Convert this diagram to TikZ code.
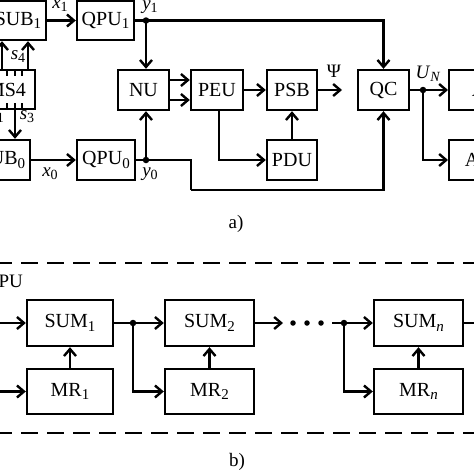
\documentclass[tikz,border=0pt]{standalone}
\usepackage{fontspec}
\setmainfont{Liberation Serif}
\usetikzlibrary{arrows.meta,calc}
\newcommand{\sbs}[1]{\raisebox{-3.5pt}{\fontsize{15}{15}\selectfont #1}}
\newcommand{\lsb}[1]{\raisebox{-3pt}{\fontsize{14}{14}\selectfont #1}}
\begin{document}
\begin{tikzpicture}[x=1pt,y=-1pt,
  txt/.style={font=\fontsize{20}{23}\selectfont},
  box/.style={draw,line width=2.4pt,inner sep=0pt,txt},
  lbl/.style={font=\fontsize{19}{22}\selectfont,inner sep=0pt},
  wire/.style={line width=2.4pt},
  arr/.style={wire,-{Straight Barb[length=7pt,width=12pt]}},
  jdot/.style={circle,fill,inner sep=0pt,minimum size=6.5pt},
  sdot/.style={circle,fill,inner sep=0pt,minimum size=5.5pt},
  tick/.style={line width=2pt},
  sep/.style={line width=2.4pt,dash pattern=on 17pt off 9pt,dash phase=5pt}]
\clip (0,0) rectangle (474,474);
% ---------- part a ----------
\node[box,minimum width=56,minimum height=39] (sub1) at (18,20.5) {SUB\sbs{1}};
\node[box,minimum width=56,minimum height=40] (sub0) at (2,160) {SUB\sbs{0}};
\node[box,minimum width=57,minimum height=39] (ms4) at (6.5,89.5) {MS4};
\node[box,minimum width=57,minimum height=39] (qpu1) at (105.5,20.5) {QPU\sbs{1}};
\node[box,minimum width=58,minimum height=40] (qpu0) at (106,160) {QPU\sbs{0}};
\node[box,minimum width=51,minimum height=40] (nu) at (143.5,90) {NU};
\node[box,minimum width=52,minimum height=40] (peu) at (217,90) {PEU};
\node[box,minimum width=50,minimum height=40] (psb) at (292,90) {PSB};
\node[box,minimum width=51,minimum height=40] (qc) at (383.5,90) {QC};
\node[box,minimum width=50,minimum height=40] (pdu) at (292,160) {PDU};
\node[box,anchor=west,minimum height=40,minimum width=60,inner xsep=12pt,align=left] (abox) at (448,90) {A};
\node[box,anchor=west,minimum height=40,minimum width=60,inner xsep=5pt,align=left] (adbox) at (448,160) {AD};

% ticks inside MS4
\foreach \tx in {7,15,22.3}{
  \draw[tick] (\tx,70) -- (\tx,76);
  \draw[tick] (\tx,103) -- (\tx,109);
}

\coordinate (j1) at (146,20.5);
\coordinate (j3) at (146,160);
\coordinate (j2) at (423,90);
\coordinate (c1) at (191,190);
\coordinate (psiend) at (342,90);

\draw[arr] (sub1.east) -- (qpu1.west);
\draw[wire] (qpu1.east) -- (j1);
\draw[arr] (j1) -| (qc.north);
\draw[arr] (j1) -- (j1 |- nu.north);
\draw[arr] (nu.east |- 0,80) -- (peu.west |- 0,80);
\draw[arr] (nu.east |- 0,100) -- (peu.west |- 0,100);
\draw[arr] (peu.east) -- (psb.west);
\draw[arr] (psb.east) -- (psiend);
\draw[wire] (qc.east) -- (j2);
\draw[arr] (j2) -- (abox.west);
\draw[arr] (j2) |- (adbox.west);
\draw[arr] ([xshift=2pt]peu.south) |- (pdu.west);
\draw[arr] (pdu.north) -- (psb.south);
\draw[arr] (sub0.east) -- (qpu0.west);
\draw[wire] (qpu0.east) -- (j3);
\draw[arr] (j3) -- (j3 |- nu.south);
\draw[wire] (j3) -| (c1);
\draw[arr] (c1) -| (qc.south);
\draw[arr] (ms4.north -| 2,0) -- (sub1.south -| 2,0);
\draw[arr] (ms4.north -| 28,0) -- (sub1.south -| 28,0);
\draw[arr] (ms4.south -| 15,0) -- (sub0.north -| 15,0);
\node[jdot] (d1) at (j1) {};
\node[jdot] (d2) at (j2) {};
\node[jdot] (d3) at (j3) {};

\node[lbl] (lx1) at (60,6) {\textit{x}\lsb{1}};
\node[lbl] (ly1) at (150,7) {\textit{y}\lsb{1}};
\node[lbl] (lx0) at (50,174) {\textit{x}\lsb{0}};
\node[lbl] (ly0) at (150,174) {\textit{y}\lsb{0}};
\node[lbl] (lpsi) at (334,71) {Ψ};
\node[lbl] (lun) at (428,74) {\textit{U}\lsb{\textit{N}}};
\node[lbl] (ls4) at (18,57) {\textit{s}\lsb{4}};
\node[lbl] (ls3) at (27,117) {\textit{s}\lsb{3}};
\node[lbl,anchor=east] (ls1) at (4,117) {\textit{s}\lsb{1}};
\node[lbl] (la) at (236,224) {a)};

% ---------- part b ----------
\coordinate (dl1) at (0,263);
\coordinate (dr1) at (474,263);
\coordinate (dl2) at (0,433);
\coordinate (dr2) at (474,433);
\draw[sep] (dl1) -- (dr1);
\draw[sep] (dl2) -- (dr2);
\node[lbl,anchor=east] (lqpu) at (23,283) {QPU};

\node[box,minimum width=86,minimum height=46] (sum1) at (70,323) {SUM\sbs{1}};
\node[box,minimum width=86,minimum height=45] (mr1) at (70,391.5) {MR\sbs{1}};
\node[box,minimum width=89,minimum height=46] (sum2) at (209.5,323) {SUM\sbs{2}};
\node[box,minimum width=89,minimum height=45] (mr2) at (209.5,391.5) {MR\sbs{2}};
\node[box,minimum width=89,minimum height=46] (sumn) at (418.5,323) {SUM\sbs{\textit{n}}};
\node[box,minimum width=89,minimum height=45] (mrn) at (418.5,391.5) {MR\sbs{\textit{n}}};

\coordinate (in1) at (0,323);
\coordinate (in2) at (0,391.5);
\coordinate (j4) at (133,323);
\coordinate (e2) at (283,323);
\coordinate (s5) at (332,323);
\coordinate (j5) at (344,323);
\coordinate (outn) at (474,323);

\draw[arr] (in1) -- (sum1.west);
\draw[arr] (in2) -- (mr1.west);
\draw[arr] (mr1.north) -- (sum1.south);
\draw[wire] (sum1.east) -- (j4);
\draw[arr] (j4) -- (sum2.west);
\draw[arr] (j4) |- (mr2.west);
\draw[arr] (mr2.north) -- (sum2.south);
\draw[arr] (sum2.east) -- (e2);
\node[sdot] (p1) at (293,323) {};
\node[sdot] (p2) at (307,323) {};
\node[sdot] (p3) at (321,323) {};
\draw[wire] (s5) -- (j5);
\draw[arr] (j5) -- (sumn.west);
\draw[arr] (j5) |- (mrn.west);
\draw[arr] (mrn.north) -- (sumn.south);
\draw[wire] (sumn.east) -- (outn);
\node[jdot] (d4) at (j4) {};
\node[jdot] (d5) at (j5) {};

\node[lbl] (lb) at (237,462) {b)};
\end{tikzpicture}
\end{document}
